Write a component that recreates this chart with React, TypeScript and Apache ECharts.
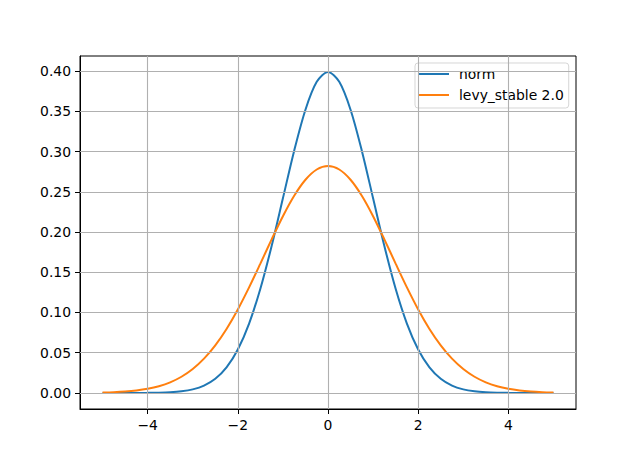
import React, { useEffect, useRef } from "react";
import * as echarts from "echarts";

const xs = [
  -5, -4.75, -4.5, -4.25, -4, -3.75, -3.5, -3.25, -3, -2.75, -2.5, -2.25, -2, -1.75, -1.5, -1.25, -1, -0.75, -0.5, -0.25,
  0, 0.25, 0.5, 0.75, 1, 1.25, 1.5, 1.75, 2, 2.25, 2.5, 2.75, 3, 3.25, 3.5, 3.75, 4, 4.25, 4.5, 4.75, 5,
];

const normValues = [
  0.0, 0.00001, 0.00002, 0.00005, 0.00013, 0.00035, 0.00087, 0.00203, 0.00443, 0.00909, 0.01753, 0.03174, 0.05399,
  0.08628, 0.12952, 0.18265, 0.24197, 0.30114, 0.35207, 0.38667, 0.39894, 0.38667, 0.35207, 0.30114, 0.24197,
  0.18265, 0.12952, 0.08628, 0.05399, 0.03174, 0.01753, 0.00909, 0.00443, 0.00203, 0.00087, 0.00035, 0.00013,
  0.00005, 0.00002, 0.00001, 0.0,
];

const levyValues = [
  0.00054, 0.001, 0.00179, 0.00309, 0.00517, 0.00839, 0.01319, 0.02012, 0.02973, 0.04259, 0.05913, 0.07957, 0.10378,
  0.13119, 0.16073, 0.19087, 0.2197, 0.24509, 0.265, 0.27772, 0.28209, 0.27772, 0.265, 0.24509, 0.2197, 0.19087,
  0.16073, 0.13119, 0.10378, 0.07957, 0.05913, 0.04259, 0.02973, 0.02012, 0.01319, 0.00839, 0.00517, 0.00309,
  0.00179, 0.001, 0.00054,
];

const xTicks = [-4, -2, 0, 2, 4];
const yTicks = [0, 0.05, 0.1, 0.15, 0.2, 0.25, 0.3, 0.35, 0.4];
const seriesNames = ["norm", "levy_stable 2.0"];

export default function App() {
  const ref = useRef<HTMLDivElement>(null);
  useEffect(() => {
    document.body.style.margin = "0";
    const chart = echarts.init(ref.current!, null, { renderer: "svg" });
    const font = "DejaVu Sans";
    const gridLine = { color: "#b0b0b0", width: 1.1, type: "solid" as const };
    const lineIcon = "path://M0 0 H30 V2 H0 Z";
    chart.setOption({
      animation: false,
      backgroundColor: "#ffffff",
      textStyle: { fontFamily: font },
      grid: {
        left: 80,
        right: 64,
        top: 56,
        bottom: 50,
        show: true,
        borderColor: "#000000",
        borderWidth: 1,
        backgroundColor: "transparent",
      },
      legend: {
        data: seriesNames.map((n) => ({ name: n, icon: lineIcon })),
        orient: "vertical",
        left: 415,
        top: 63,
        padding: [4, 5, 6, 4],
        itemWidth: 30,
        itemHeight: 14,
        itemGap: 7,
        backgroundColor: "rgba(255,255,255,0.8)",
        borderColor: "rgba(204,204,204,0.8)",
        borderWidth: 1,
        borderRadius: 3,
        textStyle: { fontFamily: font, fontSize: 13.9, color: "#000", padding: [0, 0, 0, 5] },
      },
      xAxis: {
        type: "value",
        min: -5.5,
        max: 5.5,
        axisLine: { show: true, onZero: false, lineStyle: { color: "#000", width: 1 } },
        axisTick: { show: true, customValues: xTicks, length: 5, lineStyle: { color: "#000", width: 1 } },
        axisLabel: {
          customValues: xTicks,
          margin: 9,
          fontFamily: font,
          fontSize: 13.9,
          color: "#000",
          formatter: (v: number) => String(v).replace("-", "\u2212"),
        },
        splitLine: { show: false },
      },
      yAxis: {
        type: "value",
        min: -0.01995,
        max: 0.4188,
        axisLine: { show: true, onZero: false, lineStyle: { color: "#000", width: 1 } },
        axisTick: { show: true, customValues: yTicks, length: 5, lineStyle: { color: "#000", width: 1 } },
        axisLabel: {
          customValues: yTicks,
          margin: 9,
          fontFamily: font,
          fontSize: 13.9,
          color: "#000",
          formatter: (v: number) => v.toFixed(2),
        },
        splitLine: { show: false },
      },
      series: [
        {
          name: "gridlines",
          type: "line",
          z: 1,
          silent: true,
          data: [[0, 0]],
          showSymbol: false,
          symbol: "none",
          lineStyle: { opacity: 0 },
          markLine: {
            silent: true,
            symbol: ["none", "none"],
            label: { show: false },
            lineStyle: gridLine,
            emphasis: { disabled: true },
            data: [...xTicks.map((v) => ({ xAxis: v })), ...yTicks.map((v) => ({ yAxis: v }))],
          },
        },
        {
          name: seriesNames[0],
          type: "line",
          z: 3,
          data: xs.map((x, i) => [x, normValues[i]]),
          symbol: "none",
          smooth: 0.3,
          color: "#1f77b4",
          lineStyle: { color: "#1f77b4", width: 2 },
        },
        {
          name: seriesNames[1],
          type: "line",
          z: 4,
          data: xs.map((x, i) => [x, levyValues[i]]),
          symbol: "none",
          smooth: 0.3,
          color: "#ff7f0e",
          lineStyle: { color: "#ff7f0e", width: 2 },
        },
      ],
    });
    return () => chart.dispose();
  }, []);
  return <div ref={ref} style={{ width: 640, height: 459 }} />;
}
